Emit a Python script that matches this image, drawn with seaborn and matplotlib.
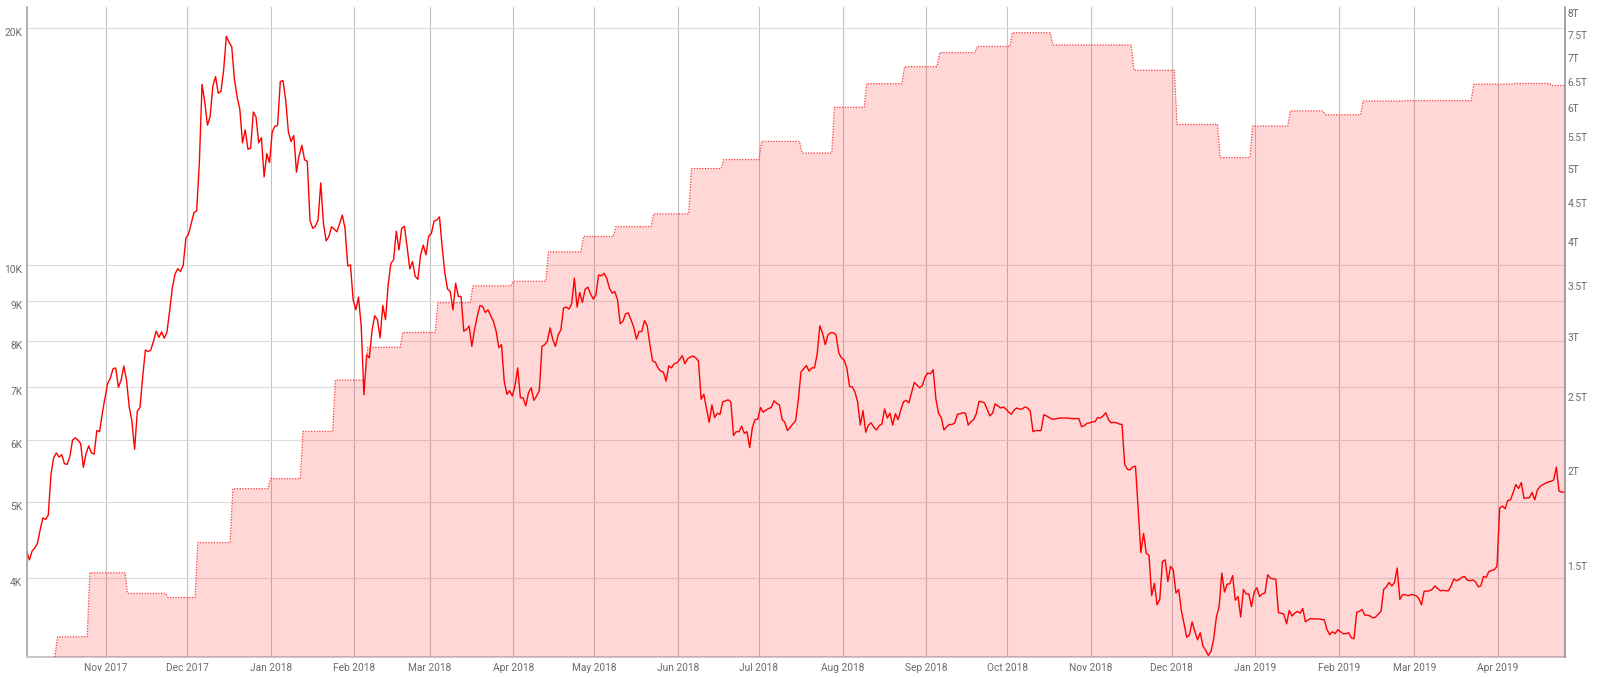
import matplotlib
matplotlib.use("Agg")
import matplotlib.pyplot as plt
import matplotlib.dates as mdates
from matplotlib.ticker import FixedLocator, FixedFormatter, NullLocator
import pandas as pd
import seaborn as sns

# ---------------- data ----------------
# daily BTC price, one value per day, first value at price_first_point
price_first_point = "2017-10-02 14:00"
price_2017_10 = [4330, 4220, 4330, 4370, 4430, 4610, 4770, 4750, 4810, 5420, 5690, 5770, 5700, 5740, 5590,
                 5580, 5710, 5990, 6030, 5990, 5930, 5530, 5760, 5890, 5770, 5750, 6160, 6140, 6470]
price_2017_11 = [6770, 7070, 7180, 7380, 7400, 6990, 7140, 7440, 7140, 6600, 6330, 5830, 6520, 6590, 7210,
                 7800, 7760, 7800, 8000, 8240, 8090, 8220, 8070, 8220, 8750, 9360, 9740, 9890, 9810, 9990]
price_2017_12 = [10810, 10950, 11300, 11650, 11720, 13490, 16960, 16100, 15050, 15440, 16870, 17350, 16530,
                 16620, 17680, 19520, 19190, 18930, 17220, 16350, 15770, 14290, 14850, 14030, 14070, 15640,
                 15420, 14290, 14510, 12940, 13850]
price_2018_01 = [13490, 14750, 15010, 15040, 17100, 17150, 16200, 14760, 14350, 14600, 13120, 13780, 14190,
                 13600, 13540, 11400, 11130, 11200, 11400, 12710, 11290, 10730, 10860, 11180, 11100, 11020,
                 11290, 11570, 11130, 9970, 10000]
price_2018_02 = [9030, 8770, 9100, 8360, 6840, 7690, 7620, 8250, 8620, 8520, 8080, 8880, 8520, 9440, 10050,
                 10150, 11040, 10450, 11130, 11200, 10550, 9880, 10100, 9670, 9590, 10300, 10600, 10300]
price_2018_03 = [10880, 10965, 11370, 11400, 11510, 10550, 9760, 9320, 9250, 8770, 9480, 9120, 9120, 8240,
                 8280, 8360, 7880, 8280, 8600, 8880, 8860, 8700, 8770, 8620, 8480, 8240, 7850, 7920, 7120,
                 6850, 6920]
price_2018_04 = [6815, 7020, 7400, 6780, 6780, 6620, 6880, 6980, 6730, 6815, 6920, 7880, 7920, 8000, 8320,
                 8040, 7880, 8150, 8270, 8815, 8840, 8790, 8925, 9620, 8840, 9225, 8960, 9315, 9370, 9190]
price_2018_05 = [9050, 9165, 9710, 9685, 9760, 9620, 9340, 9210, 9250, 9030, 8420, 8480, 8670, 8690, 8520,
                 8340, 8050, 8230, 8230, 8500, 8370, 7920, 7550, 7525, 7400, 7330, 7310, 7120, 7440, 7400,
                 7490]
price_2018_06 = [7510, 7580, 7670, 7490, 7600, 7640, 7660, 7620, 7550, 6750, 6850, 6560, 6310, 6640, 6400,
                 6480, 6460, 6700, 6720, 6740, 6700, 6070, 6140, 6140, 6240, 6110, 6140, 5860, 6220, 6360]
price_2018_07 = [6370, 6590, 6500, 6540, 6570, 6590, 6720, 6670, 6640, 6370, 6310, 6160, 6220, 6280, 6340,
                 6720, 7310, 7380, 7450, 7330, 7400, 7400, 7700, 8370, 8190, 7920, 8150, 8200, 8200, 8150,
                 7730]
price_2018_08 = [7620, 7570, 7400, 7010, 7000, 6900, 6700, 6260, 6530, 6130, 6260, 6300, 6220, 6170, 6250,
                 6280, 6560, 6390, 6480, 6260, 6470, 6360, 6540, 6700, 6730, 6680, 6880, 7090, 7040, 6980,
                 7030]
price_2018_09 = [7200, 7290, 7270, 7360, 6760, 6480, 6400, 6170, 6230, 6270, 6270, 6300, 6460, 6470, 6490,
                 6480, 6260, 6320, 6360, 6470, 6710, 6700, 6680, 6560, 6430, 6480, 6660, 6620, 6580, 6600]
price_2018_10 = [6560, 6500, 6460, 6540, 6580, 6560, 6560, 6600, 6580, 6520, 6140, 6160, 6160, 6160, 6450,
                 6430, 6400, 6370, 6370, 6380, 6390, 6390, 6390, 6390, 6380, 6380, 6380, 6380, 6230, 6250,
                 6290]
price_2018_11 = [6300, 6320, 6320, 6400, 6390, 6430, 6490, 6360, 6300, 6310, 6300, 6280, 6270, 5580, 5500,
                 5490, 5540, 5550, 4880, 4310, 4560, 4300, 4280, 3800, 3940, 3700, 3760, 4200, 4220, 3960]
price_2018_12 = [4140, 4100, 3830, 3870, 3640, 3500, 3365, 3390, 3520, 3420, 3340, 3410, 3280, 3240, 3190,
                 3230, 3350, 3570, 3680, 4060, 3840, 3930, 3935, 4030, 3750, 3790, 3570, 3870, 3820, 3820,
                 3680]
price_2019_01 = [3840, 3890, 3790, 3820, 3830, 4040, 4000, 3990, 3990, 3615, 3610, 3600, 3500, 3640, 3580,
                 3610, 3630, 3610, 3660, 3520, 3540, 3555, 3550, 3550, 3550, 3545, 3540, 3440, 3390, 3420,
                 3400]
price_2019_02 = [3440, 3420, 3400, 3400, 3410, 3360, 3350, 3620, 3630, 3650, 3590, 3590, 3580, 3560, 3570,
                 3600, 3630, 3870, 3900, 3950, 3910, 3950, 4120, 3760, 3810, 3810, 3800, 3810]
price_2019_03 = [3810, 3800, 3770, 3700, 3850, 3850, 3855, 3870, 3910, 3880, 3855, 3860, 3855, 3855, 3910,
                 3990, 3970, 3985, 4010, 4020, 3975, 3970, 3980, 3960, 3900, 3910, 4020, 4010, 4080, 4090,
                 4100]
price_2019_04 = [4140, 4910, 4940, 4900, 5020, 5030, 5140, 5260, 5200, 5290, 5050, 5060, 5060, 5140, 5030,
                 5180, 5230, 5260, 5280, 5300, 5310, 5330, 5535, 5160, 5145, 5145]

# mining difficulty (trillions), step changes
diff_change_dates = ["2017-10-01", "2017-10-14", "2017-10-26", "2017-11-09", "2017-11-24", "2017-12-05",
                     "2017-12-18", "2018-01-01", "2018-01-13", "2018-01-25", "2018-02-06", "2018-02-19",
                     "2018-03-04", "2018-03-17", "2018-04-01", "2018-04-14", "2018-04-27", "2018-05-09",
                     "2018-05-23", "2018-06-06", "2018-06-18", "2018-07-02", "2018-07-17", "2018-07-29",
                     "2018-08-10", "2018-08-24", "2018-09-06", "2018-09-20", "2018-10-03", "2018-10-18",
                     "2018-11-17", "2018-12-03", "2018-12-19", "2018-12-31", "2019-01-14", "2019-01-27",
                     "2019-02-10", "2019-02-25", "2019-03-23", "2019-04-07", "2019-04-21"]
diff_values_t = [1.123, 1.196, 1.452, 1.364, 1.347, 1.591, 1.873, 1.931, 2.228, 2.603, 2.875, 3.007,
                 3.291, 3.463, 3.511, 3.839, 4.022, 4.144, 4.307, 4.941, 5.077, 5.364, 5.179, 5.949,
                 6.389, 6.727, 7.019, 7.153, 7.455, 7.184, 6.653, 5.646, 5.106, 5.619, 5.884, 5.815,
                 6.062, 6.069, 6.379, 6.393, 6.353]

price_ticks = [4000, 5000, 6000, 7000, 8000, 9000, 10000, 20000]
price_tick_labels = ["4K", "5K", "6K", "7K", "8K", "9K", "10K", "20K"]
diff_ticks_t = [1.5, 2, 2.5, 3, 3.5, 4, 4.5, 5, 5.5, 6, 6.5, 7, 7.5, 8]
diff_tick_labels = ["1.5T", "2T", "2.5T", "3T", "3.5T", "4T", "4.5T", "5T", "5.5T", "6T", "6.5T",
                    "7T", "7.5T", "8T"]

# ---------------- build tables ----------------
price_values = (price_2017_10 + price_2017_11 + price_2017_12 + price_2018_01 + price_2018_02 +
                price_2018_03 + price_2018_04 + price_2018_05 + price_2018_06 + price_2018_07 +
                price_2018_08 + price_2018_09 + price_2018_10 + price_2018_11 + price_2018_12 +
                price_2019_01 + price_2019_02 + price_2019_03 + price_2019_04)
price_dates = pd.date_range(price_first_point, periods=len(price_values), freq="D")
price_df = pd.DataFrame({"date": price_dates, "price": price_values})

diff_s = pd.Series(diff_values_t, index=pd.to_datetime(diff_change_dates))
daily_idx = pd.date_range("2017-10-02", "2019-04-26", freq="D")
diff_daily = diff_s.reindex(diff_s.index.union(daily_idx)).ffill().reindex(daily_idx)
diff_df = pd.DataFrame({"date": daily_idx, "difficulty": diff_daily.values})

# ---------------- style ----------------
sns.set_theme(style="white")
plt.rcParams["font.family"] = ["Roboto", "DejaVu Sans"]
text_color = "#6b6b6b"
fs = 7.3

W, H = 1600, 677
fig = plt.figure(figsize=(W / 100, H / 100), dpi=100)
left_px, right_px, top_px, bottom_px = 26.7, 1565, 7, 657
ax = fig.add_axes([left_px / W, 1 - bottom_px / H, (right_px - left_px) / W, (bottom_px - top_px) / H])
ax.set_yscale("log")
ax2 = ax.twinx()
ax2.set_yscale("log")

# price line (bottom axes, with grid)
sns.lineplot(data=price_df, x="date", y="price", ax=ax, color="#ff0000", linewidth=1.0)

# difficulty area (top axes)
ax2.fill_between(diff_df["date"], diff_df["difficulty"], 0.5, color="#ff0000", alpha=0.155, linewidth=0)
sns.lineplot(data=diff_df, x="date", y="difficulty", ax=ax2, color="#ff3b3b", linewidth=0.9,
             linestyle=(0, (1, 1.2)))

# limits
ax.set_xlim(pd.Timestamp("2017-10-02 14:00"), pd.Timestamp("2019-04-25 19:00"))
ax.set_ylim(3176, 21268)
ax2.set_ylim(1.125, 8.06)

# ticks
ax.yaxis.set_major_locator(FixedLocator(price_ticks))
ax.yaxis.set_major_formatter(FixedFormatter(price_tick_labels))
ax.yaxis.set_minor_locator(NullLocator())
ax2.yaxis.set_major_locator(FixedLocator(diff_ticks_t))
ax2.yaxis.set_major_formatter(FixedFormatter(diff_tick_labels))
ax2.yaxis.set_minor_locator(NullLocator())
ax.xaxis.set_major_locator(mdates.MonthLocator())
ax.xaxis.set_major_formatter(mdates.DateFormatter("%b %Y"))
ax.xaxis.set_minor_locator(NullLocator())

ax.tick_params(axis="y", which="both", length=0, pad=3.2, labelsize=fs, labelcolor=text_color)
ax2.tick_params(axis="y", which="both", length=0, pad=1.6, labelsize=fs, labelcolor=text_color)
ax.tick_params(axis="x", which="both", length=0, pad=4.2, labelsize=fs, labelcolor=text_color)
for lbl in ax.get_yticklabels() + ax2.get_yticklabels():
    lbl.set_verticalalignment("top")

# grid
ax.set_axisbelow(True)
ax.grid(axis="x", color="#c3c3c3", linewidth=0.8)
ax.grid(axis="y", which="major", color="#dcdcdc", linewidth=0.8)
ax2.grid(False)

# spines
ax.spines["top"].set_visible(False)
ax.spines["right"].set_visible(False)
ax2.spines["top"].set_visible(False)
ax2.spines["left"].set_visible(False)
ax2.spines["bottom"].set_visible(False)
ax.spines["left"].set_color("#9a9a9a")
ax.spines["left"].set_linewidth(1.1)
ax2.spines["right"].set_color("#8a8a8a")
ax2.spines["right"].set_linewidth(1.1)
ax.spines["bottom"].set_color("#c8c8c8")
ax.spines["bottom"].set_linewidth(1.4)

for a in (ax, ax2):
    a.set_xlabel("")
    a.set_ylabel("")
    if a.get_legend() is not None:
        a.get_legend().remove()

fig.savefig("out.png", dpi=100)
